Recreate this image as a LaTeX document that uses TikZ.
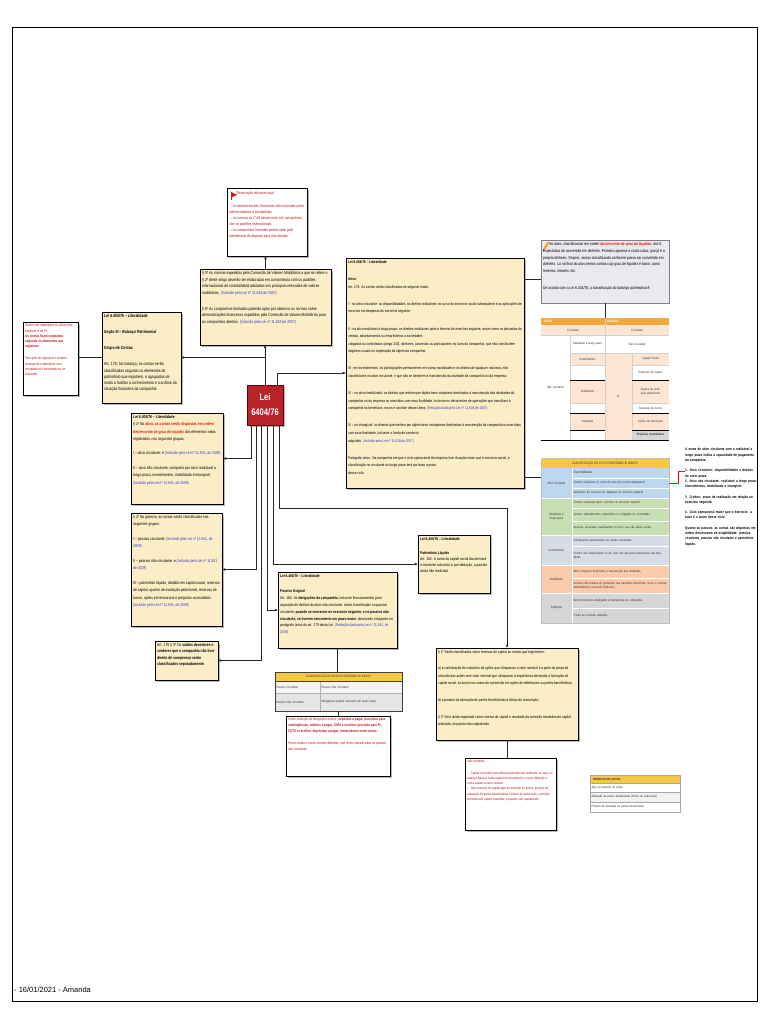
\documentclass[tikz,border=0pt]{standalone}
\usepackage{fontspec}
\setmainfont{Liberation Sans}[FakeStretch=0.8]
\newfontfamily\plainfont{Liberation Sans}
\usetikzlibrary{arrows.meta,shadows}
\definecolor{beige}{HTML}{FBEDC6}
\definecolor{nred}{HTML}{C0171F}
\definecolor{hred}{HTML}{F01010}
\definecolor{lblue}{HTML}{3A3ACF}
\definecolor{gfill}{HTML}{E9E9EF}
\definecolor{cenred}{HTML}{B8242A}
\definecolor{hdrorange}{HTML}{F2A93B}
\definecolor{peach}{HTML}{FCE6D3}
\definecolor{gold}{HTML}{F7C843}
\definecolor{cblue}{HTML}{BDD7EE}
\definecolor{cgreen}{HTML}{C6E0B4}
\definecolor{cbgray}{HTML}{D5DCE6}
\definecolor{corange}{HTML}{F8CBAD}
\definecolor{cgray}{HTML}{D6D6D6}
\definecolor{ctext}{HTML}{333333}
\newcommand\lei[1]{\textcolor{lblue}{#1}}
\newcommand\hl[1]{\textcolor{hred}{\textbf{#1}}}
\newcommand\pg[1]{\par\vspace{#1pt}}
\newcommand\mbx[7]{\node[#2,anchor=north west,inner sep=2.2pt,outer sep=0pt] (#1) at (#3,#4) {\parbox[c][\dimexpr#6pt-4.4pt\relax][t]{\dimexpr#5pt-4.4pt\relax}{\raggedright #7}};}
\newcommand\cel[7][]{\fill[#6] (#2,#3) rectangle (#4,#5);\pgfmathsetmacro\cw{#4-#2-3}\node[celt,text width=\cw pt,#1] at ({(#2+#4)/2},{(#3+#5)/2}) {#7};}
\begin{document}
\begin{tikzpicture}[x=1pt,y=-1pt,
  lbox/.style={draw=black,line width=1pt,fill=beige,drop shadow={shadow xshift=1.5pt,shadow yshift=-1.5pt,fill=black!55}},
  rnote/.style={draw=black,line width=1pt,fill=white,text=nred,drop shadow={shadow xshift=1.5pt,shadow yshift=-1.5pt,fill=black!55}},
  gnote/.style={draw=black!50,line width=0.6pt,fill=gfill,drop shadow={shadow xshift=1.2pt,shadow yshift=-1.2pt,fill=black!30}},
  cenbox/.style={draw=black!60!red,line width=1pt,fill=cenred,text=white,font=\fontsize{9.5}{15}\selectfont\bfseries,align=center,minimum width=36pt,minimum height=40pt,inner sep=1pt,drop shadow={shadow xshift=1.5pt,shadow yshift=-1.5pt,fill=black!55}},
  conn/.style={line width=0.9pt,draw=black!85},
  arr/.style={conn,-{Latex[length=3.2pt,width=2.8pt]}},
  redl/.style={line width=0.8pt,draw=hred},
  celt/.style={inner sep=0pt,align=center,text=ctext,font=\fontsize{3.2}{3.9}\selectfont},
  tbl/.style={inner sep=0pt,outer sep=0pt,anchor=north west}
]
\useasboundingbox (0,0) rectangle (768,1024);
\fill[white] (0,0) rectangle (768,1024);
\draw[line width=0.5pt] (12,27) rectangle (757,1001);

% ---------- note 1
\mbx{n1}{rnote,font=\fontsize{3.9}{6}\selectfont}{227}{189}{80}{67}{\hspace*{7pt}Observação relevante aqui!\pg{7}
→ As demonstrações financeiras são assinadas pelos administradores e contabilistas\par
→ As normas da CVM devem estar em consonância com os padrões internacionais\par
→ As companhias fechadas podem optar pelo atendimento do disposto para cias abertas.}
\fill[nred] (230.5,192) rectangle (231.4,200);
\fill[hred] (231.4,192) -- (237,194.8) -- (231.4,197.6) -- cycle;

% ---------- box 2
\mbx{b2}{lbox,font=\fontsize{4.3}{6.7}\selectfont}{200}{269}{131}{76}{§ 3º As normas expedidas pela Comissão de Valores Mobiliários a que se refere o § 2º deste artigo deverão ser elaboradas em consonância com os padrões internacionais de contabilidade adotados nos principais mercados de valores mobiliários. \lei{(Incluído pela Lei nº 11.638,de 2007)}\pg{9}
§ 6º As companhias fechadas poderão optar por observar as normas sobre demonstrações financeiras expedidas pela Comissão de Valores Mobiliários para as companhias abertas. \lei{(Incluído pela Lei nº 11.638,de 2007)}}

% ---------- box 3
\mbx{b3}{lbox,font=\fontsize{4.4}{6.2}\selectfont}{102}{312}{79}{91}{\textbf{Lei 6.404/76 – Literalidade}\pg{10}\textbf{Seção III – Balanço Patrimonial}\pg{10}\textbf{Grupo de Contas}\pg{10}Art. 178. No balanço, as contas serão classificadas segundo os elementos do patrimônio que registrem, e agrupadas de modo a facilitar o conhecimento e a análise da situação financeira da companhia.}

% ---------- note 4
\mbx{n4}{rnote,font=\fontsize{3.7}{5.2}\selectfont}{23}{322}{55}{73}{Devem ser separados os ativos dos passivos e do PL\par\textbf{As contas ficam separadas segundo os elementos que registram}\pg{7}Tem que ser algo que o usuário consiga ler e identificar se a companhia tá arrasando ou se lascando.}

% ---------- box 5
\mbx{b5}{lbox,font=\fontsize{4.2}{7.4}\selectfont}{131}{413}{92}{91}{\textbf{Lei 6.404/76 – Literalidade}\par § 1º No \hl{ativo, as contas serão dispostas em ordem decrescente de grau de liquidez} dos elementos nelas registrados, nos seguintes grupos:\pg{7}I – ativo circulante; e \lei{(Incluído pela Lei nº 11.941, de 2009)}\pg{7}II – ativo não circulante, composto por ativo realizável a longo prazo, investimentos, imobilizado e intangível. \lei{(Incluído pela Lei nº 11.941, de 2009)}}

% ---------- box 6
\mbx{b6}{lbox,font=\fontsize{4.2}{7.1}\selectfont}{131}{513}{91}{113}{§ 2º No passivo, as contas serão classificadas nos seguintes grupos:\pg{8}I – passivo circulante; \lei{(Incluído pela Lei nº 11.941, de 2009)}\pg{8}II – passivo não circulante; e \lei{(Incluído pela Lei nº 11.941, de 2009)}\pg{8}III – patrimônio líquido, dividido em capital social, reservas de capital, ajustes de avaliação patrimonial, reservas de lucros, ações em tesouraria e prejuízos acumulados. \lei{(Incluído pela Lei nº 11.941, de 2009)}}

% ---------- box 7
\mbx{b7}{lbox,font=\fontsize{4.2}{6.4}\selectfont}{155}{641}{63}{39}{Art. 178 § 3º Os \textbf{saldos devedores e credores que a companhia não tiver direito de compensar serão classificados separadamente}.}

% ---------- central node
\node[cenbox] (cen) at (265,405) {Lei\\6404/76};

% ---------- box 8
\mbx{b8}{lbox,font=\fontsize{3.9}{7.6}\selectfont}{346}{258}{178}{230}{\textbf{Lei 6.404/76 – Literalidade}\pg{10}
\textbf{Ativo}\par
Art. 179. As contas serão classificadas do seguinte modo:\pg{9.5}
I - no ativo circulante: as disponibilidades, os direitos realizáveis no curso do exercício social subseqüente e as aplicações de recursos em despesas do exercício seguinte;\pg{9.5}
II - no ativo realizável a longo prazo: os direitos realizáveis após o término do exercício seguinte, assim como os derivados de vendas, adiantamentos ou empréstimos a sociedades\\coligadas ou controladas (artigo 243), diretores, acionistas ou participantes no lucro da companhia, que não constituírem negócios usuais na exploração do objeto da companhia;\pg{9.5}
III - em investimentos: as participações permanentes em outras sociedades e os direitos de qualquer natureza, não classificáveis no ativo circulante, e que não se destinem à manutenção da atividade da companhia ou da empresa;\pg{9.5}
IV – no ativo imobilizado: os direitos que tenham por objeto bens corpóreos destinados à manutenção das atividades da companhia ou da empresa ou exercidos com essa finalidade, inclusive os decorrentes de operações que transfiram à companhia os benefícios, riscos e controle desses bens; \lei{(Redação dada pela Lei nº 11.638,de 2007)}\pg{9.5}
VI – no intangível: os direitos que tenham por objeto bens incorpóreos destinados à manutenção da companhia ou exercidos com essa finalidade, inclusive o fundo de comércio\\adquirido. \lei{(Incluído pela Lei nº 11.638,de 2007)}\pg{9.5}
Parágrafo único. Na companhia em que o ciclo operacional da empresa tiver duração maior que o exercício social, a classificação no circulante ou longo prazo terá por base o prazo\\desse ciclo.}

% ---------- note 9
\mbx{n9}{gnote,font=\fontsize{4.2}{6.9}\selectfont}{541}{240}{128}{63}{\hspace*{6pt}No ativo, classificamos em ordem \hl{decrescente de grau de liquidez}, isto é, expectativa de conversão em dinheiro. Primeiro aparece a conta caixa, que já é o próprio dinheiro. Depois, vamos classificando conforme possa ser convertido em dinheiro. Lá no final do ativo temos contas cujo grau de liquidez é baixo, como terrenos, imóveis, etc.\pg{10}De acordo com a Lei 6.404/76, a classificação do balanço patrimonial é:}
\fill[orange!85!yellow] (543.2,249) -- (547.5,242) -- (549,243) -- (544.7,250) -- cycle;
\fill[black!70] (543.2,249) -- (544.7,250) -- (542.8,251.5) -- cycle;

% ---------- table 10 (ativo / passivo)
\node[tbl,minimum width=128pt,minimum height=122pt] (t10) at (541,318) {};
\fill[hdrorange] (541,318) rectangle (669,325);
\node[anchor=west,inner sep=0,text=white,font=\fontsize{3.3}{4}\selectfont\bfseries] (t10a) at (544,321.5) {ATIVO};
\node[anchor=west,inner sep=0,text=white,font=\fontsize{3.3}{4}\selectfont\bfseries] (t10p) at (607,321.5) {PASSIVO};
\cel{541}{325}{605}{335}{peach}{Circulante}
\cel{605}{325}{669}{335}{peach}{Circulante}
\cel{541}{335}{570}{440}{white}{Não circulante}
\cel{570}{335}{605}{353}{white}{Realizável a longo prazo}
\cel{570}{353}{605}{365}{peach}{Investimentos}
\cel{570}{365}{605}{380}{white}{}
\cel{570}{380}{605}{403}{peach}{Imobilizado}
\cel{570}{403}{605}{413}{white}{}
\cel{570}{413}{605}{430}{peach}{Intangível}
\cel{570}{430}{605}{440}{white}{}
\cel{605}{335}{669}{353}{white}{Não circulante}
\cel{605}{353}{632}{440}{peach}{PL}
\cel{632}{353}{669}{365}{peach}{Capital Social}
\cel{632}{365}{669}{380}{white}{Reservas de Capital}
\cel{632}{380}{669}{403}{peach}{Ajustes de avaliação patrimonial}
\cel{632}{403}{669}{413}{white}{Reservas de lucros}
\cel{632}{413}{669}{430}{peach}{Ações em tesouraria}
\cel{632}{430}{669}{440}{cgray}{\textbf{Prejuízos acumulados}}
\draw[black!18,line width=0.4pt] (541,335) -- (669,335) (605,318) -- (605,440) (570,335) -- (570,440) (632,353) -- (632,440)
  (570,353) -- (605,353) (570,365) -- (605,365) (570,403) -- (605,403) (605,353) -- (669,353) (632,365) -- (669,365) (632,403) -- (669,403);
\draw[black,line width=1pt] (570,380) -- (605,380) (632,380) -- (669,380) (570,413) -- (605,413) (632,413) -- (669,413)
  (570,430) -- (605,430) (632,430) -- (669,430) (541,440) -- (669,440);

% ---------- table 11 (classificação do ativo)
\node[tbl,minimum width=128pt,minimum height=165pt] (t11) at (541,458) {};
\fill[gold] (541,458) rectangle (669,468);
\node[inner sep=0,text=ctext,font=\fontsize{3.3}{4}\selectfont] (t11h) at (605,463) {CLASSIFICAÇÃO DO ATIVO CONFORME LEI 6404/76};
\cel{541}{468}{572}{498}{cblue}{Ativo circulante}
\cel[align=left]{572}{468}{669}{478}{cblue}{Disponibilidades}
\cel[align=left]{572}{478}{669}{488}{cblue}{Direitos realizáveis no curso do exercício social subsequente}
\cel[align=left]{572}{488}{669}{498}{cblue}{Aplicações de recursos em despesas do exercício seguinte}
\cel{541}{498}{572}{535}{cgreen}{Realizável a longo prazo}
\cel[align=left]{572}{498}{669}{508}{cgreen}{Direitos realizáveis após o término do exercício seguinte}
\cel[align=left]{572}{508}{669}{521}{cgreen}{Vendas, adiantamentos, empréstimos a coligadas ou controladas,}
\cel[align=left]{572}{521}{669}{535}{cgreen}{diretores, acionistas, participantes no lucro, que não sejam usuais}
\cel{541}{535}{572}{565}{cbgray}{Investimentos}
\cel[align=left]{572}{535}{669}{546}{cbgray}{Participações permanentes em outras sociedades}
\cel[align=left]{572}{546}{669}{565}{cbgray}{Direitos não classificáveis no AC, que não são para manutenção das atividades}
\cel{541}{565}{572}{593}{corange}{Imobilizado}
\cel[align=left]{572}{565}{669}{578}{corange}{Bens corpóreos destinados à manutenção das atividades}
\cel[align=left]{572}{578}{669}{593}{corange}{Inclusive decorrentes de operações que transfiram benefícios, riscos e controle (arrendamento mercantil financeiro)}
\cel{541}{593}{572}{623}{cgray}{Intangível}
\cel[align=left]{572}{593}{669}{608}{cgray}{Bens incorpóreos destinados à manutenção da companhia}
\cel[align=left]{572}{608}{669}{623}{cgray}{Fundo de comércio adquirido}
\draw[white,line width=0.7pt] (572,468) -- (572,623) (572,478) -- (669,478) (572,488) -- (669,488) (541,498) -- (669,498)
  (572,508) -- (669,508) (572,521) -- (669,521) (541,535) -- (669,535) (572,546) -- (669,546) (541,565) -- (669,565)
  (572,578) -- (669,578) (541,593) -- (669,593) (572,608) -- (669,608);
\draw[black!25,line width=0.5pt] (541,458) rectangle (669,623);

% ---------- right text
\node[anchor=north west,inner sep=0,text width=72pt,align=left,font=\fontsize{3.7}{5.3}\selectfont\bfseries] (rt) at (685,448) {A soma do ativo circulante com o realizável a longo prazo indica a capacidade de pagamento da companhia.\par\vspace{5pt}
1. Ativo circulante: disponibilidades e direitos de curto prazo.\par
2. Ativo não circulante: realizável a longo prazo, investimentos, imobilizado e intangível.\par\vspace{5pt}
3. Critério: prazo de realização em relação ao exercício seguinte.\par\vspace{5pt}
4. Ciclo operacional maior que o exercício: a base é o prazo desse ciclo.\par\vspace{5pt}
Quanto ao passivo, as contas são dispostas em ordem decrescente de exigibilidade: passivo circulante, passivo não circulante e patrimônio líquido.};

% ---------- box 13
\mbx{b13}{lbox,font=\fontsize{4}{6.2}\selectfont}{418}{535}{72}{58}{\textbf{Lei 6.404/76 – Literalidade}\pg{8}\textbf{Patrimônio Líquido}\par Art. 182. A conta do capital social discriminará o montante subscrito e, por dedução, a parcela ainda não realizada.}

% ---------- box 14
\mbx{b14}{lbox,font=\fontsize{4}{6.8}\selectfont}{278}{572}{119}{76}{\textbf{Lei 6.404/76 – Literalidade}\pg{9}\textbf{Passivo Exigível}\par Art. 180. As \textbf{obrigações da companhia}, inclusive financiamentos para aquisição de direitos do ativo não circulante, serão classificadas no passivo circulante, \textbf{quando se vencerem no exercício seguinte, e no passivo não circulante, se tiverem vencimento em prazo maior}, observado o disposto no parágrafo único do art. 179 desta Lei. \lei{(Redação dada pela Lei nº 11.941, de 2009)}}

% ---------- table 15
\node[tbl,minimum width=127pt,minimum height=39pt] (t15) at (275,672) {};
\fill[gold] (275,672) rectangle (402,681);
\node[inner sep=0,text=ctext,font=\fontsize{3.1}{4}\selectfont] (t15h) at (338.5,676.5) {CLASSIFICAÇÃO DO PASSIVO CONFORME LEI 6404/76};
\cel[align=left]{275}{681}{320}{693}{black!4}{Passivo Circulante}
\cel[align=left]{320}{681}{402}{693}{black!4}{Passivo Não Circulante}
\cel[align=left]{275}{693}{320}{711}{black!10}{Passivo Não Circulante}
\cel[align=left]{320}{693}{402}{711}{black!10}{Obrigações quando vencerem em prazo maior}
\draw[black!30,line width=0.4pt] (275,693) -- (402,693) (320,681) -- (320,711);
\draw[black!75,line width=0.7pt] (275,672) rectangle (402,711) (275,681) -- (402,681);

% ---------- note 16
\mbx{n16}{rnote,font=\fontsize{3.7}{5.6}\selectfont}{286}{716}{104}{60}{Como exemplo de obrigações temos: \textbf{Impostos a pagar, provisões para contingências, salários a pagar, ICMS a recolher, provisão para IR, FGTS a recolher, duplicatas a pagar, fornecedores entre outras.}\pg{7}Temos ainda a conta receitas diferidas, que foram classificadas no passivo não circulante.}

% ---------- box 17
\mbx{b17}{lbox,font=\fontsize{3.9}{7.3}\selectfont}{436}{648}{142}{92}{§ 1º Serão classificadas como reservas de capital as contas que registrarem:\pg{9.5}a) a contribuição do subscritor de ações que ultrapassar o valor nominal e a parte do preço de emissão das ações sem valor nominal que ultrapassar a importância destinada à formação do capital social, inclusive nos casos de conversão em ações de debêntures ou partes beneficiárias;\pg{9.5}b) o produto da alienação de partes beneficiárias e bônus de subscrição;\pg{9.5}§ 2º Será ainda registrado como reserva de capital o resultado da correção monetária do capital realizado, enquanto não-capitalizado.}

% ---------- note 18
\mbx{n18}{rnote,font=\fontsize{3.5}{5.3}\selectfont}{465}{758}{91}{72}{Vale ressaltar...\pg{6}→ Capital social tem que destacar parcela não realizada, ou seja, no balanço figura a conta capital social subscrito e como dedução a conta capital social a realizar.\par → São reservas de capital ágio na emissão de ações, produto da alienação de partes beneficiárias e bônus de subscrição, correção monetária do capital realizado, enquanto não capitalizado.}

% ---------- table 19
\node[tbl,minimum width=90pt,minimum height=37pt] (t19) at (590,775) {};
\fill[gold] (590,775) rectangle (680,783);
\node[anchor=west,inner sep=0,text=ctext,font=\fontsize{3}{4}\selectfont\bfseries] (t19h) at (593,779) {RESERVAS DE CAPITAL};
\cel[align=left]{590}{783}{680}{792}{white}{Ágio na emissão de ações}
\cel[align=left]{590}{792}{680}{802}{black!5}{Alienação de partes beneficiárias (bônus de subscrição)}
\cel[align=left]{590}{802}{680}{812}{white}{Produto da alienação de partes beneficiárias}
\draw[black!35,line width=0.4pt] (590,775) rectangle (680,812) (590,783) -- (680,783) (590,792) -- (680,792) (590,802) -- (680,802);

% ---------- footer
\node[anchor=west,inner sep=0,font=\plainfont\fontsize{7.5}{9}\selectfont] (foot) at (14,990) {- 16/01/2021 - Amanda};

% ---------- connectors
\draw[arr] (cen.north) -- (cen.north |- b2.south);
\draw[arr] (b2.north) -- (b2.north |- n1.south);
\draw[arr] (cen.north) |- (b3.east);
\draw[conn] (b3.west) -- (b3.west -| n4.east);
\draw[arr] ([xshift=12pt]cen.north) |- (b8.west);
\coordinate (k9) at ([yshift=-8pt]n9.west);
\draw[conn] (k9 -| b8.east) -- (k9);
\draw[conn] (n9.south) -- (n9.south |- t10.north);
\coordinate (k11) at ([yshift=63pt]t11.west);
\draw[conn] (k11 -| b8.east) -- (k11);
\draw[arr] ([xshift=-14pt]cen.south) |- (b5.east);
\draw[arr] ([xshift=-9pt]cen.south) |- (b6.east);
\draw[arr] ([xshift=-4pt]cen.south) |- (b7.east);
\draw[arr] ([xshift=2pt]cen.south) |- (b14.west);
\draw[arr] ([xshift=8pt]cen.south) |- (b13.west);
\draw[arr] ([xshift=14pt]cen.south) -- ++(0,83) -| (b17.north);
\draw[conn] (b14.south) -- (b14.south |- t15.north);
\draw[conn] (t15.south) -- (t15.south |- n16.north);
\draw[conn] (b17.south) -- (b17.south |- n18.north);
\coordinate (k18) at ([yshift=-25pt]t11.north east);
\coordinate (k18b) at ([yshift=-23pt]rt.north west);
\draw[redl] (k18) -- ++(9,0) |- (k18b);
\end{tikzpicture}
\end{document}
